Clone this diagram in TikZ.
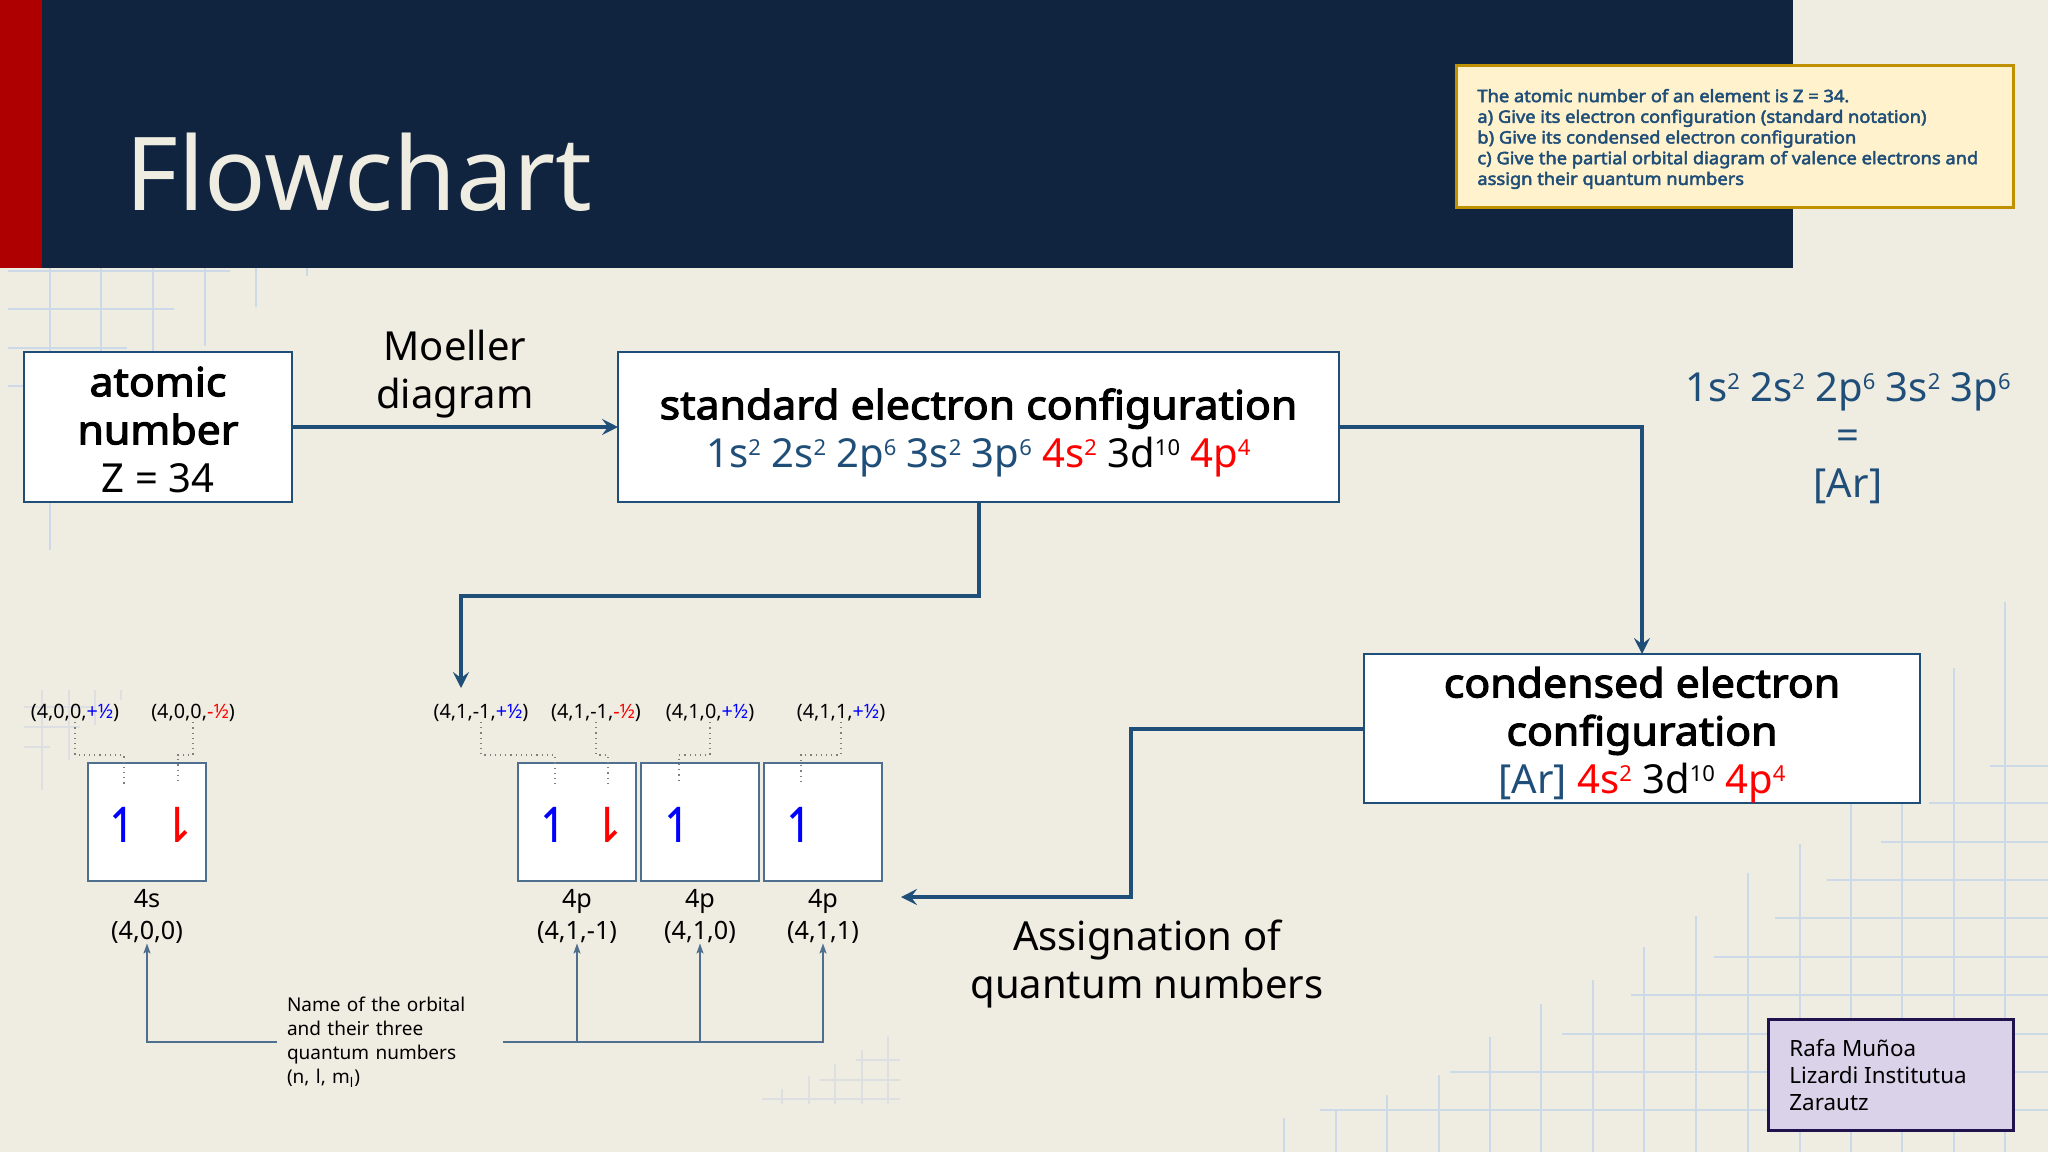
\documentclass[tikz,border=0pt]{standalone}
\usepackage{fontspec}
\setmainfont{Noto Sans}[BoldFont={Noto Sans},BoldFeatures={FakeBold=2.8,FakeStretch=1.07}]
\newfontfamily\spinfont{DejaVu Sans}
\usetikzlibrary{arrows.meta}
\definecolor{pagebg}{HTML}{EFECE2}
\definecolor{headnavy}{HTML}{11243F}
\definecolor{headred}{HTML}{AE0000}
\definecolor{cfgblue}{HTML}{1F4E79}
\definecolor{thinblue}{HTML}{4F6F8F}
\definecolor{gridblue}{HTML}{CBD9E8}
\definecolor{gridfaint}{HTML}{DDDFE3}
\definecolor{notefill}{HTML}{FFF2CC}
\definecolor{noteedge}{HTML}{BF9000}
\definecolor{signfill}{HTML}{D9D2E9}
\definecolor{signedge}{HTML}{20124D}
\newcommand{\cfgb}[1]{\textcolor{cfgblue}{#1}}
\newcommand{\cfgr}[1]{\textcolor{red}{#1}}
\newcommand{\sps}[1]{\raisebox{6pt}{\fontsize{11}{11}\selectfont #1}}
\newcommand{\toppad}[1]{\rule{0pt}{#1}}
\newcommand{\spinup}{\textcolor{blue}{+½}}
\newcommand{\spindn}{\textcolor{red}{-½}}
\tikzset{
  flowbox/.style={draw=cfgblue,fill=white,line width=1pt,inner sep=0pt,outer sep=0pt,align=center,font=\fontsize{20}{24}\selectfont},
  flowtext/.style={inner sep=0pt,align=center,font=\fontsize{20}{24}\selectfont},
  flowline/.style={draw=cfgblue,line width=2pt},
  flowtip/.style={-{Stealth[length=8pt,width=8pt,inset=3pt]}},
  orbbox/.style={draw=thinblue,fill=white,line width=0.8pt,minimum size=59pt,inner sep=0pt,outer sep=0pt},
  orblabel/.style={inner sep=0pt,align=center,font=\fontsize{12.6}{16}\selectfont},
  qnlabel/.style={inner sep=0pt,font=\fontsize{9.9}{12}\selectfont},
  thinline/.style={draw=thinblue,line width=0.8pt},
  thintip/.style={-{Stealth[length=5pt,width=3.5pt,inset=1pt]}},
  spinline/.style={draw=gray,line width=0.6pt,dotted},
  spinarrow/.style={inner sep=0pt,minimum height=41pt,font=\fontsize{24}{26}\spinfont},
  gridline/.style={draw=gridblue,line width=0.8pt},
  gridlight/.style={draw=gridfaint,line width=0.6pt}
}
\begin{document}
\begin{tikzpicture}[x=0.5pt,y=-0.5pt]
  \useasboundingbox (0,0) rectangle (2048,1152);
  \fill[pagebg] (0,0) rectangle (2048,1152);
  % background grid
  \draw[gridline] (50,268) -- (50,550) (101,268) -- (101,352) (153,268) -- (153,352) (205,268) -- (205,346) (256,268) -- (256,307) (307,268) -- (307,276);
  \draw[gridline] (8,271) -- (230,271) (8,309) -- (174,309) (8,348) -- (127,348) (8,386) -- (24,386);
  \draw[gridlight] (42,690) -- (42,790) (69,690) -- (69,760) (95,690) -- (95,725) (121,690) -- (121,700);
  \draw[gridlight] (24,707) -- (95,707) (24,727) -- (80,727) (24,747) -- (50,747);
  \draw[gridlight] (782,1089) -- (782,1104) (809,1076) -- (809,1104) (835,1064) -- (835,1104) (862,1050) -- (862,1104) (888,1036) -- (888,1104);
  \draw[gridlight] (762,1099) -- (900,1099) (820,1080) -- (900,1080) (856,1060) -- (900,1060);
  \draw[gridline] (1284,1118) -- (1284,1152) (1336,1110) -- (1336,1152) (1387,1095) -- (1387,1152) (1439,1075) -- (1439,1152) (1490,1037) -- (1490,1152) (1541,1004) -- (1541,1152) (1593,980) -- (1593,1152) (1644,947) -- (1644,1152);
  \draw[gridline] (1696,916) -- (1696,1152) (1748,873) -- (1748,1152) (1800,844) -- (1800,1152) (1851,800) -- (1851,1152) (1902,800) -- (1902,1152) (1954,668) -- (1954,1152) (2005,602) -- (2005,1152);
  \draw[gridline] (1990,766) -- (2048,766) (1929,803) -- (2048,803) (1881,842) -- (2048,842) (1827,880) -- (2048,880) (1775,918) -- (2048,918);
  \draw[gridline] (1714,957) -- (2048,957) (1631,995) -- (2048,995) (1562,1034) -- (2048,1034) (1450,1072) -- (2048,1072) (1320,1110) -- (2048,1110);

  % header
  \fill[headnavy] (42,0) rectangle (1793,268);
  \fill[headred]  (0,0)  rectangle (42,268);
  \node[text=pagebg,inner sep=0pt,anchor=west,font=\fontsize{51}{60}\selectfont] (title) at (125,172) {Flowchart};
  \node[draw=noteedge,fill=notefill,line width=1.5pt,inner sep=0pt,outer sep=0pt,minimum width=278.5pt,minimum height=71pt] (note) at (1734.5,136) {};
  \node[text=cfgblue,inner sep=0pt,anchor=west,align=left,font=\fontsize{8.55}{10.35}\selectfont\bfseries] (notetext) at (1477,139) {The atomic number of an element is Z = 34.\\a) Give its electron configuration (standard notation)\\b) Give its condensed electron configuration\\c) Give the partial orbital diagram of valence electrons and\\assign their quantum numbers};

  % flow boxes
  \node[flowbox,minimum width=134pt,minimum height=75pt]    (atomic)    at (158,427)    {\toppad{17.4pt}\textbf{atomic}\\\textbf{number}\\Z = 34};
  \node[flowbox,minimum width=360.5pt,minimum height=75pt]  (standard)  at (978.5,427)  {\toppad{21pt}\textbf{standard electron configuration}\\\cfgb{1s\sps{2} 2s\sps{2} 2p\sps{6} 3s\sps{2} 3p\sps{6}} \cfgr{4s\sps{2}} 3d\sps{10} \cfgr{4p\sps{4}}};
  \node[flowbox,minimum width=278pt,minimum height=74.5pt]  (condensed) at (1642,728.5) {\toppad{21.7pt}\textbf{condensed electron}\\\textbf{configuration}\\\cfgb{[Ar]} \cfgr{4s\sps{2}} 3d\sps{10} \cfgr{4p\sps{4}}};
  \node[flowtext]            (moeller) at (455,374)  {Moeller\\diagram};
  \node[flowtext,text=cfgblue] (arnote) at (1848,438) {1s\sps{2} 2s\sps{2} 2p\sps{6} 3s\sps{2} 3p\sps{6}\\=\\{}[Ar]};
  \node[flowtext]            (assign)  at (1147,964) {Assignation of\\quantum numbers};

  % flow connectors
  \coordinate (downelbow) at (461,596);
  \coordinate (downend)   at (461,688);
  \coordinate (backelbow) at (1131,897);
  \coordinate (backend)   at (901,897);
  \draw[flowline,flowtip] (atomic.east)    --  (standard.west);
  \draw[flowline,flowtip] (standard.east)  -|  (condensed.north);
  \draw[flowline,flowtip] (standard.south) |-  (downelbow) -- (downend);
  \draw[flowline,flowtip] (condensed.west) -|  (backelbow) -- (backend);

  % orbitals
  \node[orbbox] (orb4s)  at (147,822) {};
  \node[orbbox] (orb4pa) at (577,822) {};
  \node[orbbox] (orb4pb) at (700,822) {};
  \node[orbbox] (orb4pc) at (823,822) {};
  \node[spinarrow,text=blue] (up4s)  at (124,825) {↿};
  \node[spinarrow,text=red]  (dn4s)  at (178,825) {⇂};
  \node[spinarrow,text=blue] (up4pa) at (555,825) {↿};
  \node[spinarrow,text=red]  (dn4pa) at (608,825) {⇂};
  \node[spinarrow,text=blue] (up4pb) at (679,825) {↿};
  \node[spinarrow,text=blue] (up4pc) at (801,825) {↿};
  \node[orblabel] (lab4s)  at (147,916) {4s\\(4,0,0)};
  \node[orblabel] (lab4pa) at (577,916) {4p\\(4,1,-1)};
  \node[orblabel] (lab4pb) at (700,916) {4p\\(4,1,0)};
  \node[orblabel] (lab4pc) at (823,916) {4p\\(4,1,1)};

  % quantum numbers
  \node[qnlabel] (qn4sa)  at (75,713)  {(4,0,0,\spinup)};
  \node[qnlabel] (qn4sb)  at (193,713) {(4,0,0,\spindn)};
  \node[qnlabel] (qn4pa)  at (481,713) {(4,1,-1,\spinup)};
  \node[qnlabel] (qn4pb)  at (596,713) {(4,1,-1,\spindn)};
  \node[qnlabel] (qn4pc)  at (710,713) {(4,1,0,\spinup)};
  \node[qnlabel] (qn4pd)  at (841,713) {(4,1,1,\spinup)};
  \coordinate (jog) at (0,755);
  \draw[spinline] (qn4sa.south) -- (qn4sa |- jog) -- (up4s |- jog)  -- (up4s.north);
  \draw[spinline] (qn4sb.south) -- (qn4sb |- jog) -- (dn4s |- jog)  -- (dn4s.north);
  \draw[spinline] (qn4pa.south) -- (qn4pa |- jog) -- (up4pa |- jog) -- (up4pa.north);
  \draw[spinline] (qn4pb.south) -- (qn4pb |- jog) -- (dn4pa |- jog) -- (dn4pa.north);
  \draw[spinline] (qn4pc.south) -- (qn4pc |- jog) -- (up4pb |- jog) -- (up4pb.north);
  \draw[spinline] (qn4pd.south) -- (qn4pd |- jog) -- (up4pc |- jog) -- (up4pc.north);

  % orbital name note
  \node[inner xsep=5pt,inner ysep=0pt,outer sep=0pt,text width=103pt,align=left,font=\fontsize{9.5}{12}\selectfont] (orbname) at (390,1042) {Name of the orbital\\and their three\\quantum numbers\\(n, l, m\textsubscript{l})};
  \draw[thinline,thintip] (orbname.west) -| (lab4s.south);
  \draw[thinline,thintip] (orbname.east) -| (lab4pa.south);
  \draw[thinline,thintip] (orbname.east) -| (lab4pb.south);
  \draw[thinline,thintip] (orbname.east) -| (lab4pc.south);

  % signature
  \node[draw=signedge,fill=signfill,line width=1.5pt,inner sep=0pt,outer sep=0pt,minimum width=122.5pt,minimum height=55.5pt] (sign) at (1890.5,1075) {};
  \node[inner sep=0pt,anchor=west,align=left,font=\fontsize{11.2}{13.7}\selectfont] (signtext) at (1789,1075) {Rafa Muñoa\\Lizardi Institutua\\Zarautz};
\end{tikzpicture}
\end{document}
